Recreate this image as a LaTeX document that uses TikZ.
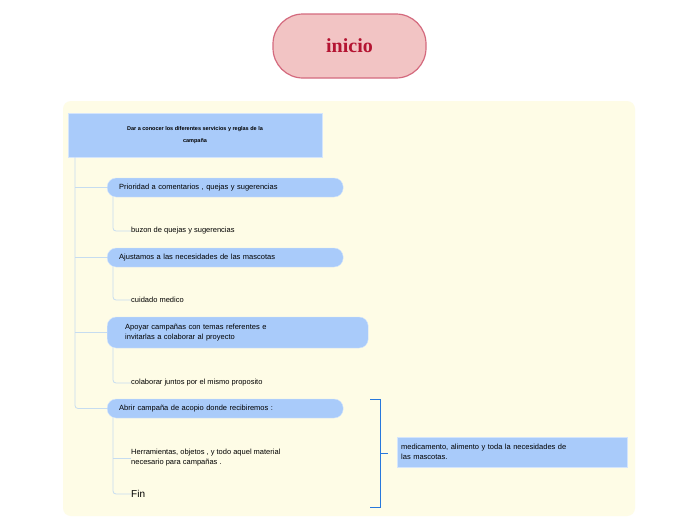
\documentclass[tikz,border=0pt]{standalone}
\usepackage{fontspec}
\setmainfont{Liberation Sans}
\newfontfamily\seriff{Liberation Serif}
\definecolor{bx}{HTML}{A9CBFA}
\definecolor{cn}{HTML}{C6DCF0}
\definecolor{panel}{HTML}{FEFCE6}
\definecolor{pinkb}{HTML}{D46A7E}
\definecolor{pinkf}{HTML}{F2C4C4}
\definecolor{redt}{HTML}{B41432}
\definecolor{brk}{HTML}{2878DC}
\begin{document}
\begin{tikzpicture}[x=1pt,y=-1pt,
  leaf/.style={anchor=west,font=\fontsize{7.5}{10}\selectfont,inner sep=0pt,align=left},
  n/.style={fill=bx,draw=bx!50!white,rounded corners=9pt,anchor=west,inner sep=0pt,align=left,font=\fontsize{7.5}{10}\selectfont},
  cline/.style={draw=cn,line width=0.8pt,rounded corners=3pt}]
\useasboundingbox (0,0) rectangle (696,520);
\fill[white] (0,0) rectangle (696,520);
\fill[panel,rounded corners=8pt] (63,101) rectangle (635,516);
\node[draw=pinkb,line width=1.2pt,fill=pinkf,rounded corners=30pt,minimum width=153pt,minimum height=64pt] (ini) at (349.5,46) {\seriff\bfseries\fontsize{20}{24}\selectfont\color{redt}inicio};
\node[fill=bx,draw=bx!50!white,minimum width=254pt,minimum height=44pt,inner sep=0pt,align=center,font=\bfseries\fontsize{5.5}{12}\selectfont] (top) at (195,135) {Dar a conocer los diferentes servicios y reglas de la\\campaña};
\node[n,minimum width=236pt,minimum height=19pt,text width=236pt] (n1) at (107,187.5) {\hspace*{12pt}Prioridad a comentarios , quejas y sugerencias};
\node[n,minimum width=236pt,minimum height=19pt,text width=236pt] (n2) at (107,257.5) {\hspace*{12pt}Ajustamos a las necesidades de las mascotas};
\node[n,minimum width=261pt,minimum height=31pt,text width=261pt] (n3) at (107,332.5) {\hspace*{18pt}\parbox{240pt}{Apoyar campañas con temas referentes  e\\invitarlas a  colaborar al proyecto}};
\node[n,minimum width=236pt,minimum height=19pt,text width=236pt] (n4) at (107,408.5) {\hspace*{12pt}Abrir campaña de acopio donde  recibiremos :};
\node[leaf] (l1) at (131,231) {buzon de quejas y sugerencias};
\node[leaf] (l2) at (131,300) {cuidado medico};
\node[leaf] (l3) at (131,383) {colaborar juntos por el mismo proposito};
\node[leaf] (l4) at (131,458) {Herramientas, objetos , y todo aquel material\\necesario para campañas .};
\node[leaf,font=\fontsize{10}{12}\selectfont] (l5) at (131,494) {Fin};
\node[fill=bx,draw=bx!50!white,anchor=west,minimum width=230pt,minimum height=30pt,text width=230pt,inner sep=0pt,align=left,font=\fontsize{7.5}{10}\selectfont] (rt) at (397,452) {\hspace*{4pt}\parbox{224pt}{medicamento, alimento y toda la necesidades de\\las mascotas.}};
\draw[cline] (75,157) -- (75,408.5) -- (n4.west);
\foreach \n in {n1,n2,n3} \draw[cline] (75,0 |- \n.west) -- (\n.west);
\draw[cline] (113,197) -- (113,231) -- (l1.west);
\draw[cline] (113,267) -- (113,300) -- (l2.west);
\draw[cline] (113,348) -- (113,383) -- (l3.west);
\draw[cline] (113,418) -- (113,494) -- (l5.west);
\draw[cline] (113,458) -- (l4.west);
\draw[draw=brk,line width=1pt] (370,399) -- (380,399) -- (380,507) -- (370,507) (380,453) -- (388,453);
\end{tikzpicture}
\end{document}
